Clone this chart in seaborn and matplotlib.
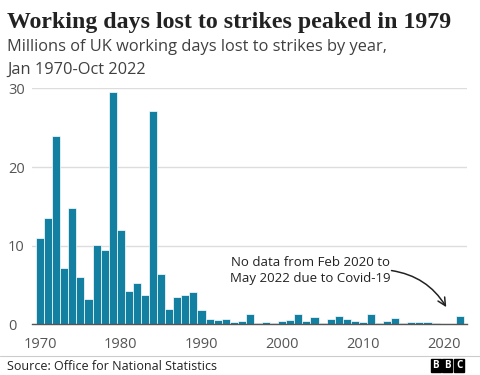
import pandas as pd
import numpy as np
import seaborn as sns
import matplotlib.pyplot as plt
from matplotlib.patches import Rectangle

# Millions of working days lost (ONS series)
years = list(range(1970, 2023))
days_lost = [
    10.98, 13.55, 23.91, 7.20, 14.75, 6.01, 3.28, 10.14, 9.41, 29.47,
    11.96, 4.27, 5.31, 3.75, 27.14, 6.40, 1.92, 3.55, 3.70, 4.13,
    1.90, 0.76, 0.53, 0.65, 0.28, 0.42, 1.30, 0.24, 0.28, 0.24,
    0.50, 0.53, 1.32, 0.50, 0.91, 0.16, 0.76, 1.04, 0.76, 0.46,
    0.37, 1.39, 0.25, 0.44, 0.79, 0.17, 0.32, 0.28, 0.27, 0.23,
    np.nan, np.nan, 1.10,
]
x_ticks = [1970, 1980, 1990, 2000, 2010, 2020]
y_ticks = [0, 10, 20, 30]

strikes_df = pd.DataFrame({"Year": years, "Days lost": days_lost}).dropna()

sns.set_style("white")
plt.rcParams["font.family"] = ["Open Sans", "DejaVu Sans"]

fig = plt.figure(figsize=(4.8, 3.75), dpi=100)
ax = fig.add_axes([0.0667, 0.1347, 0.9063, 0.6298])

sns.barplot(data=strikes_df, x="Year", y="Days lost", native_scale=True,
            color="#1380A1", saturation=1, width=1.0,
            edgecolor="white", linewidth=0.5, ax=ax)

ax.set_xlim(1969.0, 2022.9)
ax.set_ylim(0, 30)
ax.set_xticks(x_ticks)
ax.set_yticks(y_ticks)
ax.set_xlabel("")
ax.set_ylabel("")
ax.grid(axis="y", color="#dddddd", linewidth=1)
ax.set_axisbelow(True)
for side in ["top", "right", "left"]:
    ax.spines[side].set_visible(False)
ax.spines["bottom"].set_color("#555555")
ax.spines["bottom"].set_linewidth(1)
ax.tick_params(axis="x", length=5, width=1, color="#555555", labelsize=10.5,
               labelcolor="#555555", pad=4)
ax.tick_params(axis="y", length=0, labelsize=10.5, labelcolor="#555555", pad=0)
for lbl in ax.get_yticklabels():
    lbl.set_horizontalalignment("left")
    lbl.set_x(-0.055)

# annotation about the Covid gap
ax.text(2003.5, 6.8, "No data from Feb 2020 to\nMay 2022 due to Covid-19",
        ha="center", va="center", fontsize=9.5, color="#222222", linespacing=1.3)
ax.annotate("", xy=(2020.5, 1.9), xytext=(2013.2, 6.9),
            arrowprops=dict(arrowstyle="->", color="#222222", lw=1.1,
                            connectionstyle="arc3,rad=-0.25", mutation_scale=14))

# titles
fig.text(0.015, 0.94, "Working days lost to strikes peaked in 1979",
         fontsize=17.2, fontweight="bold", family=["Liberation Serif"],
         color="#222222", va="center")
fig.text(0.015, 0.875, "Millions of UK working days lost to strikes by year,",
         fontsize=11.8, color="#404040", va="center")
fig.text(0.015, 0.813, "Jan 1970-Oct 2022", fontsize=11.8, color="#404040", va="center")

# footer
fig.add_artist(plt.Line2D([0, 1], [0.051, 0.051], color="#cccccc", lw=0.8,
                          transform=fig.transFigure))
fig.text(0.015, 0.024, "Source: Office for National Statistics", fontsize=9,
         color="#222222", va="center")
for i, letter in enumerate("BBC"):
    x0 = 0.897 + i * 0.0245
    fig.add_artist(Rectangle((x0, 0.008), 0.021, 0.034, color="black",
                             transform=fig.transFigure))
    fig.text(x0 + 0.0105, 0.025, letter, fontsize=7, fontweight="bold",
             color="white", ha="center", va="center")

plt.savefig("out.png", dpi=100)
